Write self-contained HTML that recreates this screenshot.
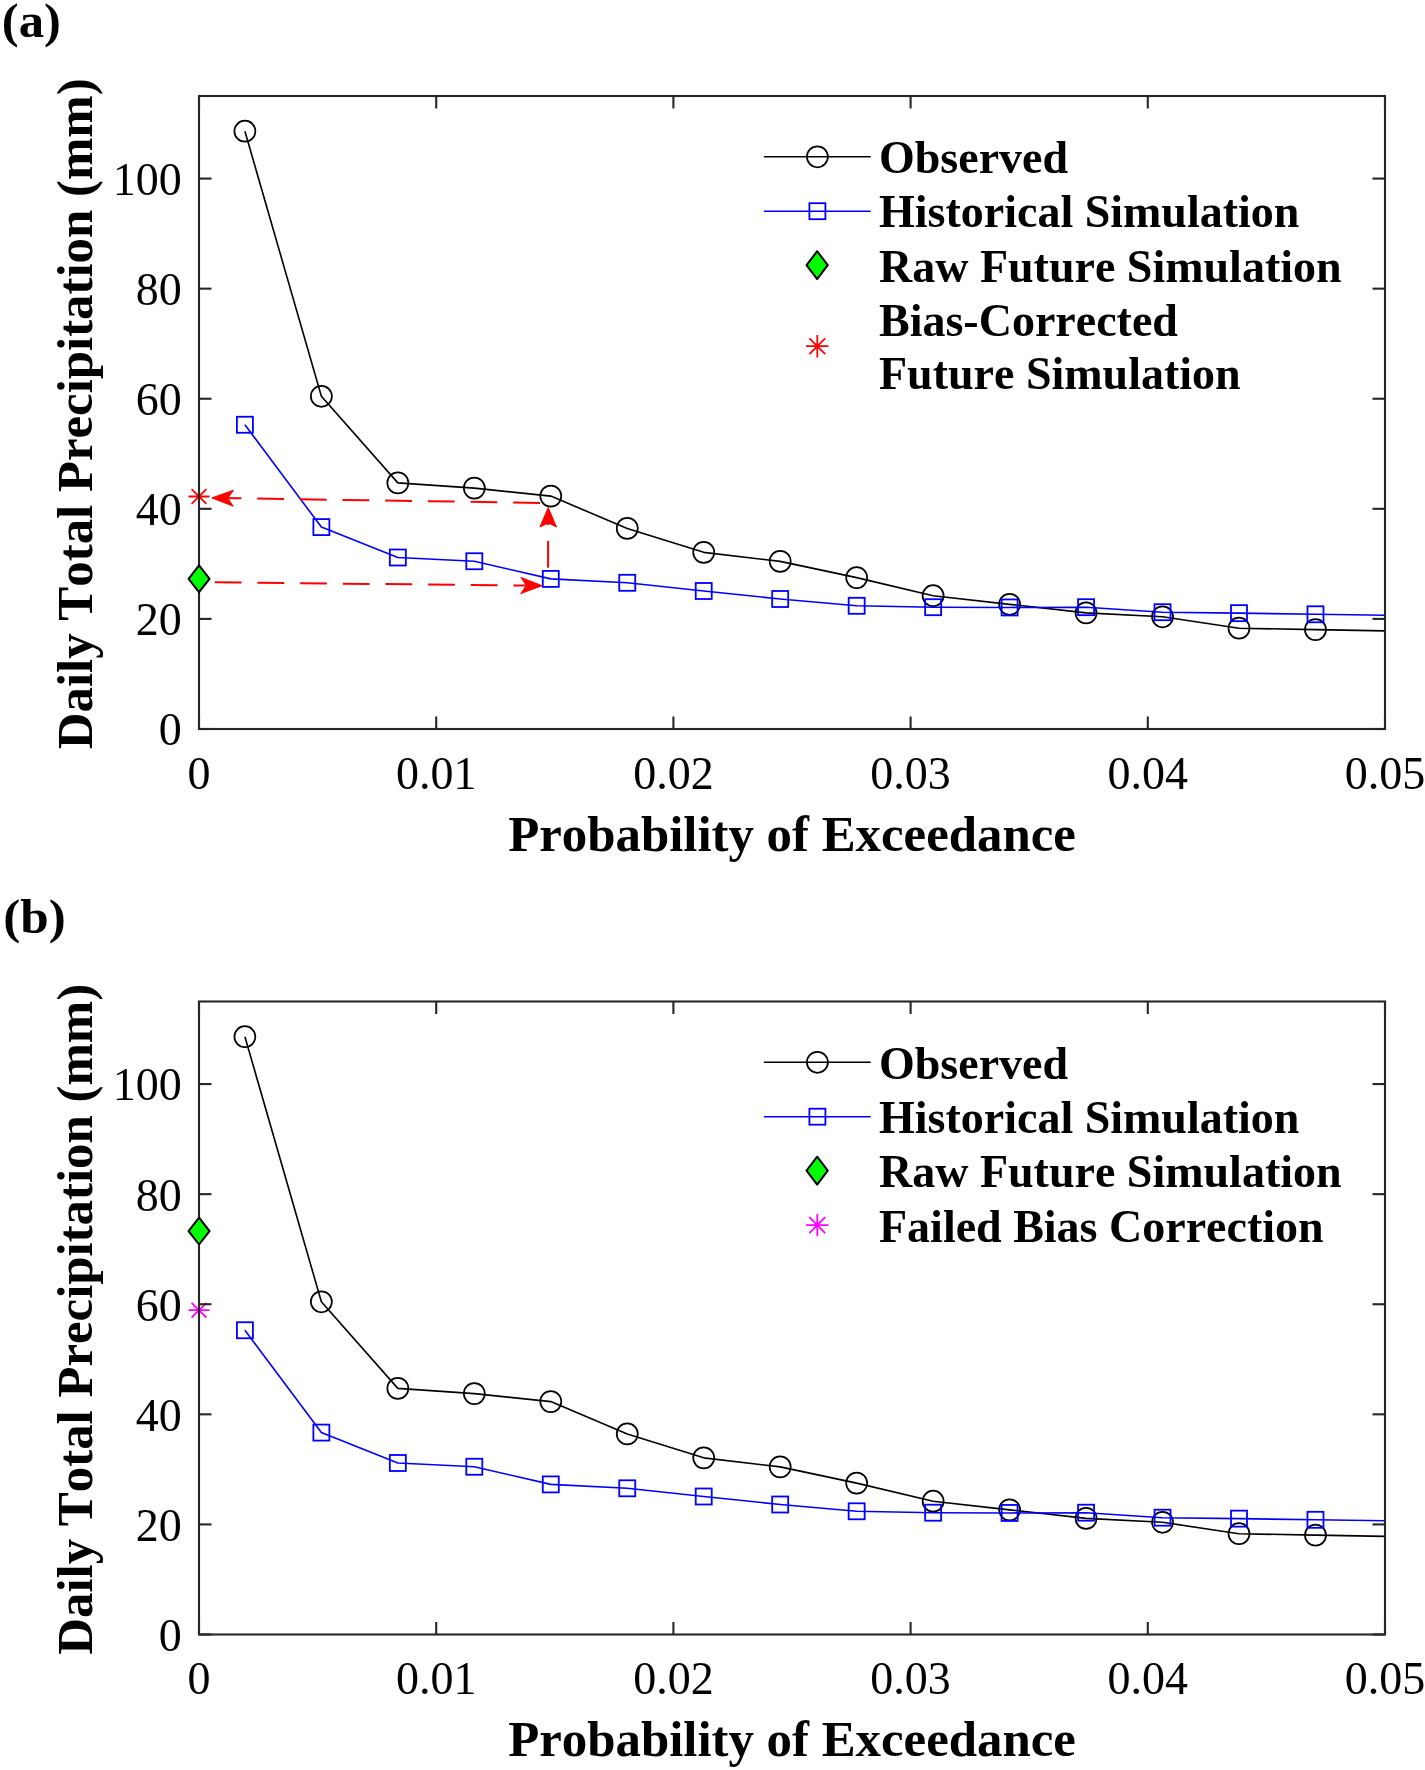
<!DOCTYPE html>
<html><head><meta charset="utf-8"><style>
html,body{margin:0;padding:0;background:#fff;overflow:hidden;width:1425px;height:1770px;}
svg{display:block;will-change:transform;}
text{font-kerning:none;}
</style></head><body>
<svg width="1425" height="1770" viewBox="0 0 1425 1770">
<rect width="1425" height="1770" fill="#fff"/>
<g transform="translate(0,0)">
<clipPath id="clipa"><rect x="199.0" y="96.0" width="1186.0" height="633.0"/></clipPath>
<polyline clip-path="url(#clipa)" points="244.90,131.20 321.37,396.30 397.84,482.90 474.31,488.10 550.78,496.10 627.25,528.40 703.72,552.35 780.19,561.40 856.66,577.60 933.13,595.70 1009.60,604.35 1086.07,612.90 1162.54,616.80 1239.01,628.20 1315.48,629.65 1392.0,631.05" fill="none" stroke="#000" stroke-width="1.6" stroke-linejoin="round"/>
<circle cx="244.90" cy="131.20" r="10.5" fill="none" stroke="#000" stroke-width="1.7"/>
<circle cx="321.37" cy="396.30" r="10.5" fill="none" stroke="#000" stroke-width="1.7"/>
<circle cx="397.84" cy="482.90" r="10.5" fill="none" stroke="#000" stroke-width="1.7"/>
<circle cx="474.31" cy="488.10" r="10.5" fill="none" stroke="#000" stroke-width="1.7"/>
<circle cx="550.78" cy="496.10" r="10.5" fill="none" stroke="#000" stroke-width="1.7"/>
<circle cx="627.25" cy="528.40" r="10.5" fill="none" stroke="#000" stroke-width="1.7"/>
<circle cx="703.72" cy="552.35" r="10.5" fill="none" stroke="#000" stroke-width="1.7"/>
<circle cx="780.19" cy="561.40" r="10.5" fill="none" stroke="#000" stroke-width="1.7"/>
<circle cx="856.66" cy="577.60" r="10.5" fill="none" stroke="#000" stroke-width="1.7"/>
<circle cx="933.13" cy="595.70" r="10.5" fill="none" stroke="#000" stroke-width="1.7"/>
<circle cx="1009.60" cy="604.35" r="10.5" fill="none" stroke="#000" stroke-width="1.7"/>
<circle cx="1086.07" cy="612.90" r="10.5" fill="none" stroke="#000" stroke-width="1.7"/>
<circle cx="1162.54" cy="616.80" r="10.5" fill="none" stroke="#000" stroke-width="1.7"/>
<circle cx="1239.01" cy="628.20" r="10.5" fill="none" stroke="#000" stroke-width="1.7"/>
<circle cx="1315.48" cy="629.65" r="10.5" fill="none" stroke="#000" stroke-width="1.7"/>
<polyline clip-path="url(#clipa)" points="244.90,424.75 321.37,527.10 397.84,557.50 474.31,561.25 550.78,578.90 627.25,582.80 703.72,591.00 780.19,599.00 856.66,605.80 933.13,607.20 1009.60,607.45 1086.07,607.20 1162.54,612.20 1239.01,613.15 1315.48,614.30 1392.0,615.3" fill="none" stroke="#0000ff" stroke-width="1.6" stroke-linejoin="round"/>
<rect x="236.90" y="416.75" width="16.0" height="16.0" fill="none" stroke="#0000ff" stroke-width="1.8"/>
<rect x="313.37" y="519.10" width="16.0" height="16.0" fill="none" stroke="#0000ff" stroke-width="1.8"/>
<rect x="389.84" y="549.50" width="16.0" height="16.0" fill="none" stroke="#0000ff" stroke-width="1.8"/>
<rect x="466.31" y="553.25" width="16.0" height="16.0" fill="none" stroke="#0000ff" stroke-width="1.8"/>
<rect x="542.78" y="570.90" width="16.0" height="16.0" fill="none" stroke="#0000ff" stroke-width="1.8"/>
<rect x="619.25" y="574.80" width="16.0" height="16.0" fill="none" stroke="#0000ff" stroke-width="1.8"/>
<rect x="695.72" y="583.00" width="16.0" height="16.0" fill="none" stroke="#0000ff" stroke-width="1.8"/>
<rect x="772.19" y="591.00" width="16.0" height="16.0" fill="none" stroke="#0000ff" stroke-width="1.8"/>
<rect x="848.66" y="597.80" width="16.0" height="16.0" fill="none" stroke="#0000ff" stroke-width="1.8"/>
<rect x="925.13" y="599.20" width="16.0" height="16.0" fill="none" stroke="#0000ff" stroke-width="1.8"/>
<rect x="1001.60" y="599.45" width="16.0" height="16.0" fill="none" stroke="#0000ff" stroke-width="1.8"/>
<rect x="1078.07" y="599.20" width="16.0" height="16.0" fill="none" stroke="#0000ff" stroke-width="1.8"/>
<rect x="1154.54" y="604.20" width="16.0" height="16.0" fill="none" stroke="#0000ff" stroke-width="1.8"/>
<rect x="1231.01" y="605.15" width="16.0" height="16.0" fill="none" stroke="#0000ff" stroke-width="1.8"/>
<rect x="1307.48" y="606.30" width="16.0" height="16.0" fill="none" stroke="#0000ff" stroke-width="1.8"/>
<path d="M188.50,496.50H209.50M199.00,486.00V507.00M191.58,489.08L206.42,503.92M191.58,503.92L206.42,489.08" stroke="#ff0000" stroke-width="1.8" fill="none"/>
<rect x="199.0" y="96.0" width="1186.0" height="633.0" fill="none" stroke="#262626" stroke-width="2.1"/>
<line x1="199.0" y1="729.00" x2="211.5" y2="729.00" stroke="#262626" stroke-width="2.1"/>
<line x1="1385.0" y1="729.00" x2="1372.5" y2="729.00" stroke="#262626" stroke-width="2.1"/>
<text transform="translate(181.7,745.40) scale(1,1.03)" x="0" y="0" text-anchor="end" font-size="46" style="font-family:"Liberation Serif",serif;">0</text>
<line x1="199.0" y1="618.91" x2="211.5" y2="618.91" stroke="#262626" stroke-width="2.1"/>
<line x1="1385.0" y1="618.91" x2="1372.5" y2="618.91" stroke="#262626" stroke-width="2.1"/>
<text transform="translate(181.7,635.31) scale(1,1.03)" x="0" y="0" text-anchor="end" font-size="46" style="font-family:"Liberation Serif",serif;">20</text>
<line x1="199.0" y1="508.83" x2="211.5" y2="508.83" stroke="#262626" stroke-width="2.1"/>
<line x1="1385.0" y1="508.83" x2="1372.5" y2="508.83" stroke="#262626" stroke-width="2.1"/>
<text transform="translate(181.7,525.23) scale(1,1.03)" x="0" y="0" text-anchor="end" font-size="46" style="font-family:"Liberation Serif",serif;">40</text>
<line x1="199.0" y1="398.74" x2="211.5" y2="398.74" stroke="#262626" stroke-width="2.1"/>
<line x1="1385.0" y1="398.74" x2="1372.5" y2="398.74" stroke="#262626" stroke-width="2.1"/>
<text transform="translate(181.7,415.14) scale(1,1.03)" x="0" y="0" text-anchor="end" font-size="46" style="font-family:"Liberation Serif",serif;">60</text>
<line x1="199.0" y1="288.65" x2="211.5" y2="288.65" stroke="#262626" stroke-width="2.1"/>
<line x1="1385.0" y1="288.65" x2="1372.5" y2="288.65" stroke="#262626" stroke-width="2.1"/>
<text transform="translate(181.7,305.05) scale(1,1.03)" x="0" y="0" text-anchor="end" font-size="46" style="font-family:"Liberation Serif",serif;">80</text>
<line x1="199.0" y1="178.57" x2="211.5" y2="178.57" stroke="#262626" stroke-width="2.1"/>
<line x1="1385.0" y1="178.57" x2="1372.5" y2="178.57" stroke="#262626" stroke-width="2.1"/>
<text transform="translate(181.7,194.97) scale(1,1.03)" x="0" y="0" text-anchor="end" font-size="46" style="font-family:"Liberation Serif",serif;">100</text>
<line x1="199.00" y1="729.0" x2="199.00" y2="716.5" stroke="#262626" stroke-width="2.1"/>
<line x1="199.00" y1="96.0" x2="199.00" y2="108.5" stroke="#262626" stroke-width="2.1"/>
<text transform="translate(199.00,788.6) scale(1,1.03)" x="0" y="0" text-anchor="middle" font-size="46" style="font-family:"Liberation Serif",serif;">0</text>
<line x1="436.20" y1="729.0" x2="436.20" y2="716.5" stroke="#262626" stroke-width="2.1"/>
<line x1="436.20" y1="96.0" x2="436.20" y2="108.5" stroke="#262626" stroke-width="2.1"/>
<text transform="translate(436.20,788.6) scale(1,1.03)" x="0" y="0" text-anchor="middle" font-size="46" style="font-family:"Liberation Serif",serif;">0.01</text>
<line x1="673.40" y1="729.0" x2="673.40" y2="716.5" stroke="#262626" stroke-width="2.1"/>
<line x1="673.40" y1="96.0" x2="673.40" y2="108.5" stroke="#262626" stroke-width="2.1"/>
<text transform="translate(673.40,788.6) scale(1,1.03)" x="0" y="0" text-anchor="middle" font-size="46" style="font-family:"Liberation Serif",serif;">0.02</text>
<line x1="910.60" y1="729.0" x2="910.60" y2="716.5" stroke="#262626" stroke-width="2.1"/>
<line x1="910.60" y1="96.0" x2="910.60" y2="108.5" stroke="#262626" stroke-width="2.1"/>
<text transform="translate(910.60,788.6) scale(1,1.03)" x="0" y="0" text-anchor="middle" font-size="46" style="font-family:"Liberation Serif",serif;">0.03</text>
<line x1="1147.80" y1="729.0" x2="1147.80" y2="716.5" stroke="#262626" stroke-width="2.1"/>
<line x1="1147.80" y1="96.0" x2="1147.80" y2="108.5" stroke="#262626" stroke-width="2.1"/>
<text transform="translate(1147.80,788.6) scale(1,1.03)" x="0" y="0" text-anchor="middle" font-size="46" style="font-family:"Liberation Serif",serif;">0.04</text>
<line x1="1385.00" y1="729.0" x2="1385.00" y2="716.5" stroke="#262626" stroke-width="2.1"/>
<line x1="1385.00" y1="96.0" x2="1385.00" y2="108.5" stroke="#262626" stroke-width="2.1"/>
<text transform="translate(1385.00,788.6) scale(1,1.03)" x="0" y="0" text-anchor="middle" font-size="46" style="font-family:"Liberation Serif",serif;">0.05</text>
<text x="792" y="850.9" text-anchor="middle" font-size="50.85" font-weight="bold" style="font-family:"Liberation Serif",serif;">Probability of Exceedance</text>
<text transform="translate(92,413.8) rotate(-90)" x="0" y="0" text-anchor="middle" font-size="50.85" font-weight="bold" style="font-family:"Liberation Serif",serif;">Daily Total Precipitation (mm)</text>
</g>
<g transform="translate(0,0)">
<line x1="763.8" y1="156.8" x2="870.8" y2="156.8" stroke="#000" stroke-width="1.6"/>
<circle cx="817.4" cy="156.8" r="10.5" fill="none" stroke="#000" stroke-width="1.7"/>
<line x1="763.8" y1="211.2" x2="870.8" y2="211.2" stroke="#0000ff" stroke-width="1.6"/>
<rect x="809.40" y="203.20" width="16.0" height="16.0" fill="none" stroke="#0000ff" stroke-width="1.8"/>
<path d="M817.15,251.20L827.75,265.20L817.15,279.20L806.55,265.20Z" fill="#00ff00" stroke="#000" stroke-width="2" stroke-linejoin="round"/>
<text x="879.0" y="173.0" font-size="46" font-weight="bold" style="font-family:"Liberation Serif",serif;">Observed</text>
<text x="879.0" y="227.4" font-size="46" font-weight="bold" style="font-family:"Liberation Serif",serif;">Historical Simulation</text>
<text x="879.0" y="281.7" font-size="46" font-weight="bold" style="font-family:"Liberation Serif",serif;">Raw Future Simulation</text>
<path d="M806.10,346.20H828.50M817.30,335.00V357.40M809.38,338.28L825.22,354.12M809.38,354.12L825.22,338.28" stroke="#ff0000" stroke-width="1.8" fill="none"/>
<text x="879.0" y="336" font-size="46" font-weight="bold" style="font-family:"Liberation Serif",serif;">Bias-Corrected</text>
<text x="879.0" y="389" font-size="46" font-weight="bold" style="font-family:"Liberation Serif",serif;">Future Simulation</text>
</g>
<line x1="214.8" y1="582.3" x2="534" y2="585.62" stroke="#ff0000" stroke-width="2" stroke-dasharray="26.8 15.87"/>
<path d="M542.10,585.70L520.72,593.58L526.30,585.54L520.89,577.38Z" fill="#ff0000" stroke="#ff0000" stroke-width="1" stroke-linejoin="round"/>
<line x1="540" y1="502.9" x2="220" y2="498.03" stroke="#ff0000" stroke-width="2" stroke-dasharray="26.8 15.87"/>
<path d="M212.00,497.90L233.42,490.22L227.80,498.14L233.18,506.22Z" fill="#ff0000" stroke="#ff0000" stroke-width="1" stroke-linejoin="round"/>
<line x1="548.1" y1="567.7" x2="548.1" y2="515" stroke="#ff0000" stroke-width="2" stroke-dasharray="26.8 15.87"/>
<path d="M548.20,507.60L556.50,527.00L548.20,523.00L539.90,527.00Z" fill="#ff0000" stroke="#ff0000" stroke-width="1" stroke-linejoin="round"/>
<path d="M199.05,565.40L209.55,578.80L199.05,592.20L188.55,578.80Z" fill="#00ff00" stroke="#000" stroke-width="2" stroke-linejoin="round"/>
<text transform="translate(1.8,36.5) scale(1.054,1)" x="0" y="0" font-size="48" font-weight="bold" style="font-family:"Liberation Serif",serif;">(a)</text>
<g transform="translate(0,905.5)">
<clipPath id="clipb"><rect x="199.0" y="96.0" width="1186.0" height="633.0"/></clipPath>
<polyline clip-path="url(#clipb)" points="244.90,131.20 321.37,396.30 397.84,482.90 474.31,488.10 550.78,496.10 627.25,528.40 703.72,552.35 780.19,561.40 856.66,577.60 933.13,595.70 1009.60,604.35 1086.07,612.90 1162.54,616.80 1239.01,628.20 1315.48,629.65 1392.0,631.05" fill="none" stroke="#000" stroke-width="1.6" stroke-linejoin="round"/>
<circle cx="244.90" cy="131.20" r="10.5" fill="none" stroke="#000" stroke-width="1.7"/>
<circle cx="321.37" cy="396.30" r="10.5" fill="none" stroke="#000" stroke-width="1.7"/>
<circle cx="397.84" cy="482.90" r="10.5" fill="none" stroke="#000" stroke-width="1.7"/>
<circle cx="474.31" cy="488.10" r="10.5" fill="none" stroke="#000" stroke-width="1.7"/>
<circle cx="550.78" cy="496.10" r="10.5" fill="none" stroke="#000" stroke-width="1.7"/>
<circle cx="627.25" cy="528.40" r="10.5" fill="none" stroke="#000" stroke-width="1.7"/>
<circle cx="703.72" cy="552.35" r="10.5" fill="none" stroke="#000" stroke-width="1.7"/>
<circle cx="780.19" cy="561.40" r="10.5" fill="none" stroke="#000" stroke-width="1.7"/>
<circle cx="856.66" cy="577.60" r="10.5" fill="none" stroke="#000" stroke-width="1.7"/>
<circle cx="933.13" cy="595.70" r="10.5" fill="none" stroke="#000" stroke-width="1.7"/>
<circle cx="1009.60" cy="604.35" r="10.5" fill="none" stroke="#000" stroke-width="1.7"/>
<circle cx="1086.07" cy="612.90" r="10.5" fill="none" stroke="#000" stroke-width="1.7"/>
<circle cx="1162.54" cy="616.80" r="10.5" fill="none" stroke="#000" stroke-width="1.7"/>
<circle cx="1239.01" cy="628.20" r="10.5" fill="none" stroke="#000" stroke-width="1.7"/>
<circle cx="1315.48" cy="629.65" r="10.5" fill="none" stroke="#000" stroke-width="1.7"/>
<polyline clip-path="url(#clipb)" points="244.90,424.75 321.37,527.10 397.84,557.50 474.31,561.25 550.78,578.90 627.25,582.80 703.72,591.00 780.19,599.00 856.66,605.80 933.13,607.20 1009.60,607.45 1086.07,607.20 1162.54,612.20 1239.01,613.15 1315.48,614.30 1392.0,615.3" fill="none" stroke="#0000ff" stroke-width="1.6" stroke-linejoin="round"/>
<rect x="236.90" y="416.75" width="16.0" height="16.0" fill="none" stroke="#0000ff" stroke-width="1.8"/>
<rect x="313.37" y="519.10" width="16.0" height="16.0" fill="none" stroke="#0000ff" stroke-width="1.8"/>
<rect x="389.84" y="549.50" width="16.0" height="16.0" fill="none" stroke="#0000ff" stroke-width="1.8"/>
<rect x="466.31" y="553.25" width="16.0" height="16.0" fill="none" stroke="#0000ff" stroke-width="1.8"/>
<rect x="542.78" y="570.90" width="16.0" height="16.0" fill="none" stroke="#0000ff" stroke-width="1.8"/>
<rect x="619.25" y="574.80" width="16.0" height="16.0" fill="none" stroke="#0000ff" stroke-width="1.8"/>
<rect x="695.72" y="583.00" width="16.0" height="16.0" fill="none" stroke="#0000ff" stroke-width="1.8"/>
<rect x="772.19" y="591.00" width="16.0" height="16.0" fill="none" stroke="#0000ff" stroke-width="1.8"/>
<rect x="848.66" y="597.80" width="16.0" height="16.0" fill="none" stroke="#0000ff" stroke-width="1.8"/>
<rect x="925.13" y="599.20" width="16.0" height="16.0" fill="none" stroke="#0000ff" stroke-width="1.8"/>
<rect x="1001.60" y="599.45" width="16.0" height="16.0" fill="none" stroke="#0000ff" stroke-width="1.8"/>
<rect x="1078.07" y="599.20" width="16.0" height="16.0" fill="none" stroke="#0000ff" stroke-width="1.8"/>
<rect x="1154.54" y="604.20" width="16.0" height="16.0" fill="none" stroke="#0000ff" stroke-width="1.8"/>
<rect x="1231.01" y="605.15" width="16.0" height="16.0" fill="none" stroke="#0000ff" stroke-width="1.8"/>
<rect x="1307.48" y="606.30" width="16.0" height="16.0" fill="none" stroke="#0000ff" stroke-width="1.8"/>
<path d="M188.50,404.70H209.50M199.00,394.20V415.20M191.58,397.28L206.42,412.12M191.58,412.12L206.42,397.28" stroke="#ff00ff" stroke-width="1.8" fill="none"/>
<rect x="199.0" y="96.0" width="1186.0" height="633.0" fill="none" stroke="#262626" stroke-width="2.1"/>
<line x1="199.0" y1="729.00" x2="211.5" y2="729.00" stroke="#262626" stroke-width="2.1"/>
<line x1="1385.0" y1="729.00" x2="1372.5" y2="729.00" stroke="#262626" stroke-width="2.1"/>
<text transform="translate(181.7,745.40) scale(1,1.03)" x="0" y="0" text-anchor="end" font-size="46" style="font-family:"Liberation Serif",serif;">0</text>
<line x1="199.0" y1="618.91" x2="211.5" y2="618.91" stroke="#262626" stroke-width="2.1"/>
<line x1="1385.0" y1="618.91" x2="1372.5" y2="618.91" stroke="#262626" stroke-width="2.1"/>
<text transform="translate(181.7,635.31) scale(1,1.03)" x="0" y="0" text-anchor="end" font-size="46" style="font-family:"Liberation Serif",serif;">20</text>
<line x1="199.0" y1="508.83" x2="211.5" y2="508.83" stroke="#262626" stroke-width="2.1"/>
<line x1="1385.0" y1="508.83" x2="1372.5" y2="508.83" stroke="#262626" stroke-width="2.1"/>
<text transform="translate(181.7,525.23) scale(1,1.03)" x="0" y="0" text-anchor="end" font-size="46" style="font-family:"Liberation Serif",serif;">40</text>
<line x1="199.0" y1="398.74" x2="211.5" y2="398.74" stroke="#262626" stroke-width="2.1"/>
<line x1="1385.0" y1="398.74" x2="1372.5" y2="398.74" stroke="#262626" stroke-width="2.1"/>
<text transform="translate(181.7,415.14) scale(1,1.03)" x="0" y="0" text-anchor="end" font-size="46" style="font-family:"Liberation Serif",serif;">60</text>
<line x1="199.0" y1="288.65" x2="211.5" y2="288.65" stroke="#262626" stroke-width="2.1"/>
<line x1="1385.0" y1="288.65" x2="1372.5" y2="288.65" stroke="#262626" stroke-width="2.1"/>
<text transform="translate(181.7,305.05) scale(1,1.03)" x="0" y="0" text-anchor="end" font-size="46" style="font-family:"Liberation Serif",serif;">80</text>
<line x1="199.0" y1="178.57" x2="211.5" y2="178.57" stroke="#262626" stroke-width="2.1"/>
<line x1="1385.0" y1="178.57" x2="1372.5" y2="178.57" stroke="#262626" stroke-width="2.1"/>
<text transform="translate(181.7,194.97) scale(1,1.03)" x="0" y="0" text-anchor="end" font-size="46" style="font-family:"Liberation Serif",serif;">100</text>
<line x1="199.00" y1="729.0" x2="199.00" y2="716.5" stroke="#262626" stroke-width="2.1"/>
<line x1="199.00" y1="96.0" x2="199.00" y2="108.5" stroke="#262626" stroke-width="2.1"/>
<text transform="translate(199.00,788.6) scale(1,1.03)" x="0" y="0" text-anchor="middle" font-size="46" style="font-family:"Liberation Serif",serif;">0</text>
<line x1="436.20" y1="729.0" x2="436.20" y2="716.5" stroke="#262626" stroke-width="2.1"/>
<line x1="436.20" y1="96.0" x2="436.20" y2="108.5" stroke="#262626" stroke-width="2.1"/>
<text transform="translate(436.20,788.6) scale(1,1.03)" x="0" y="0" text-anchor="middle" font-size="46" style="font-family:"Liberation Serif",serif;">0.01</text>
<line x1="673.40" y1="729.0" x2="673.40" y2="716.5" stroke="#262626" stroke-width="2.1"/>
<line x1="673.40" y1="96.0" x2="673.40" y2="108.5" stroke="#262626" stroke-width="2.1"/>
<text transform="translate(673.40,788.6) scale(1,1.03)" x="0" y="0" text-anchor="middle" font-size="46" style="font-family:"Liberation Serif",serif;">0.02</text>
<line x1="910.60" y1="729.0" x2="910.60" y2="716.5" stroke="#262626" stroke-width="2.1"/>
<line x1="910.60" y1="96.0" x2="910.60" y2="108.5" stroke="#262626" stroke-width="2.1"/>
<text transform="translate(910.60,788.6) scale(1,1.03)" x="0" y="0" text-anchor="middle" font-size="46" style="font-family:"Liberation Serif",serif;">0.03</text>
<line x1="1147.80" y1="729.0" x2="1147.80" y2="716.5" stroke="#262626" stroke-width="2.1"/>
<line x1="1147.80" y1="96.0" x2="1147.80" y2="108.5" stroke="#262626" stroke-width="2.1"/>
<text transform="translate(1147.80,788.6) scale(1,1.03)" x="0" y="0" text-anchor="middle" font-size="46" style="font-family:"Liberation Serif",serif;">0.04</text>
<line x1="1385.00" y1="729.0" x2="1385.00" y2="716.5" stroke="#262626" stroke-width="2.1"/>
<line x1="1385.00" y1="96.0" x2="1385.00" y2="108.5" stroke="#262626" stroke-width="2.1"/>
<text transform="translate(1385.00,788.6) scale(1,1.03)" x="0" y="0" text-anchor="middle" font-size="46" style="font-family:"Liberation Serif",serif;">0.05</text>
<text x="792" y="850.9" text-anchor="middle" font-size="50.85" font-weight="bold" style="font-family:"Liberation Serif",serif;">Probability of Exceedance</text>
<text transform="translate(92,413.8) rotate(-90)" x="0" y="0" text-anchor="middle" font-size="50.85" font-weight="bold" style="font-family:"Liberation Serif",serif;">Daily Total Precipitation (mm)</text>
</g>
<g transform="translate(0,905.5)">
<line x1="763.8" y1="156.8" x2="870.8" y2="156.8" stroke="#000" stroke-width="1.6"/>
<circle cx="817.4" cy="156.8" r="10.5" fill="none" stroke="#000" stroke-width="1.7"/>
<line x1="763.8" y1="211.2" x2="870.8" y2="211.2" stroke="#0000ff" stroke-width="1.6"/>
<rect x="809.40" y="203.20" width="16.0" height="16.0" fill="none" stroke="#0000ff" stroke-width="1.8"/>
<path d="M817.15,251.20L827.75,265.20L817.15,279.20L806.55,265.20Z" fill="#00ff00" stroke="#000" stroke-width="2" stroke-linejoin="round"/>
<text x="879.0" y="173.0" font-size="46" font-weight="bold" style="font-family:"Liberation Serif",serif;">Observed</text>
<text x="879.0" y="227.4" font-size="46" font-weight="bold" style="font-family:"Liberation Serif",serif;">Historical Simulation</text>
<text x="879.0" y="281.7" font-size="46" font-weight="bold" style="font-family:"Liberation Serif",serif;">Raw Future Simulation</text>
<path d="M806.10,319.60H828.50M817.30,308.40V330.80M809.38,311.68L825.22,327.52M809.38,327.52L825.22,311.68" stroke="#ff00ff" stroke-width="1.8" fill="none"/>
<text x="879.0" y="336" font-size="46" font-weight="bold" style="font-family:"Liberation Serif",serif;">Failed Bias Correction</text>
</g>
<path d="M199.05,1217.70L209.55,1231.10L199.05,1244.50L188.55,1231.10Z" fill="#00ff00" stroke="#000" stroke-width="2" stroke-linejoin="round"/>
<text transform="translate(3.24,932.7) scale(1.065,1)" x="0" y="0" font-size="48" font-weight="bold" style="font-family:"Liberation Serif",serif;">(b)</text>
</svg>
</body></html>
